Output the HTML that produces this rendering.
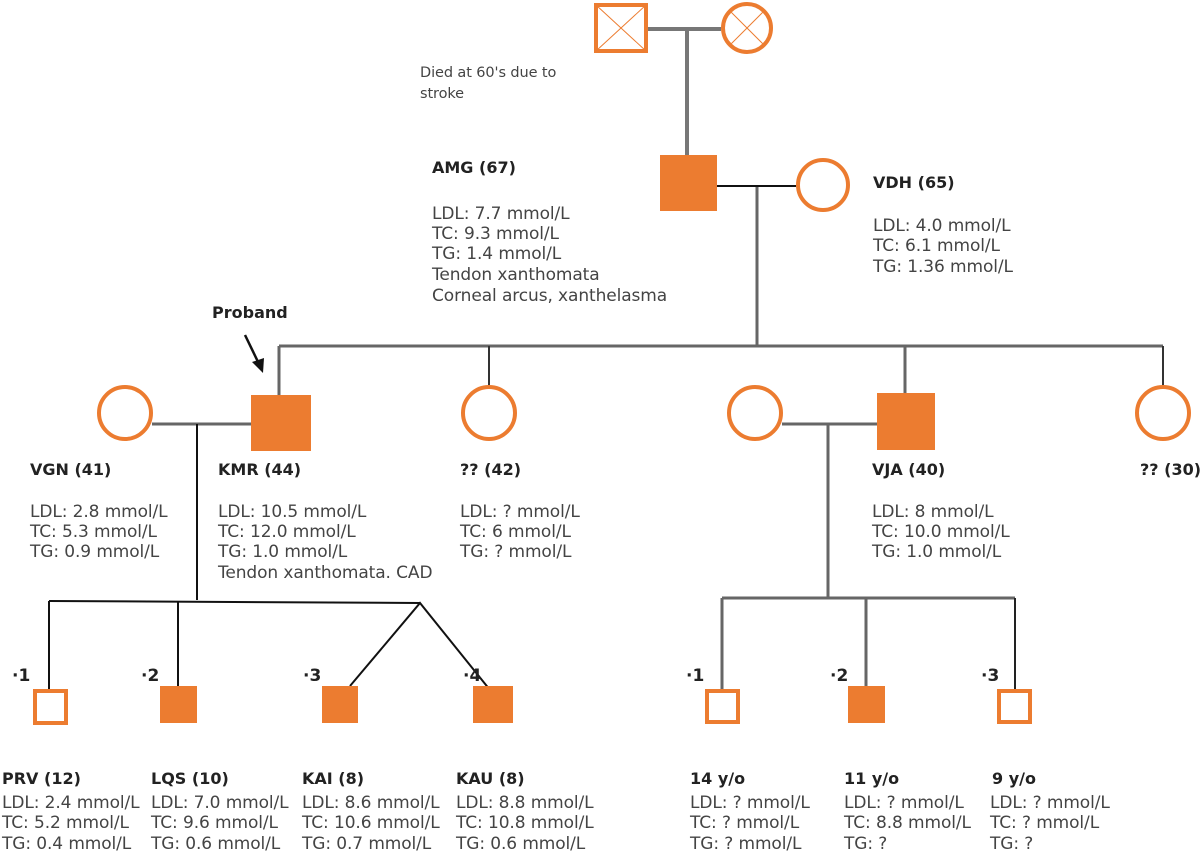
<!DOCTYPE html>
<html><head><style>
body{margin:0;background:#fff}
text{font-family:"DejaVu Sans","Liberation Sans",sans-serif;font-size:17px;fill:#444;letter-spacing:-0.1px}
.b{font-weight:bold;fill:#222;letter-spacing:0;font-size:16px}
.n{font-size:17px}
</style></head><body>
<svg width="1200" height="858" viewBox="0 0 1200 858" xmlns="http://www.w3.org/2000/svg">
<g stroke="#777" stroke-width="4" fill="none">
<line x1="648" y1="29" x2="721" y2="29"/>
<line x1="687" y1="29" x2="687" y2="157"/>
<line x1="757" y1="186" x2="757" y2="346" stroke="#666" stroke-width="3"/>
<line x1="279" y1="346" x2="1163" y2="346" stroke="#666" stroke-width="3"/>
<line x1="279" y1="346" x2="279" y2="395" stroke="#666" stroke-width="3"/>
<line x1="489" y1="346" x2="489" y2="386" stroke="#333" stroke-width="2"/>
<line x1="905" y1="346" x2="905" y2="393" stroke="#666" stroke-width="3"/>
<line x1="1163" y1="346" x2="1163" y2="386" stroke="#333" stroke-width="2"/>
<line x1="152" y1="424" x2="251" y2="424" stroke="#666" stroke-width="3"/>
<line x1="782" y1="424" x2="877" y2="424" stroke="#666" stroke-width="3"/>
<line x1="828" y1="424" x2="828" y2="598" stroke="#666" stroke-width="3"/>
<line x1="722" y1="598" x2="1015" y2="598" stroke="#666" stroke-width="3"/>
<line x1="722" y1="598" x2="722" y2="690" stroke="#666" stroke-width="3"/>
<line x1="866" y1="598" x2="866" y2="686" stroke="#666" stroke-width="3"/>
<line x1="1015" y1="598" x2="1015" y2="690" stroke="#222" stroke-width="2"/>
</g>
<g stroke="#111" stroke-width="2" fill="none">
<line x1="717" y1="186" x2="796" y2="186"/>
<line x1="197" y1="424" x2="197" y2="600"/>
<line x1="49" y1="601" x2="420" y2="603"/>
<line x1="49" y1="601" x2="49" y2="690"/>
<line x1="178" y1="601" x2="178" y2="686"/>
<polyline points="350,686 420,603 490,690"/>
</g>
<g stroke="#ec7c30" fill="none">
<rect x="596" y="5" width="50" height="46" stroke-width="4"/>
<line x1="596" y1="5" x2="646" y2="51" stroke-width="1"/><line x1="646" y1="5" x2="596" y2="51" stroke-width="1"/>
<circle cx="747" cy="28" r="24" stroke-width="4"/>
<line x1="731" y1="12" x2="763" y2="44" stroke-width="1"/><line x1="763" y1="12" x2="731" y2="44" stroke-width="1"/>
<circle cx="823" cy="185" r="25" stroke-width="4"/>
<circle cx="125" cy="413" r="26" stroke-width="4"/>
<circle cx="489" cy="413" r="26" stroke-width="4"/>
<circle cx="755" cy="413" r="26" stroke-width="4"/>
<circle cx="1163" cy="413" r="26" stroke-width="4"/>
<rect x="35" y="691" width="31" height="32" stroke-width="4"/>
<rect x="707" y="691" width="31" height="31" stroke-width="4"/>
<rect x="999" y="691" width="31" height="31" stroke-width="4"/>
</g>
<g fill="#ec7c30">
<rect x="660" y="155" width="57" height="56"/>
<rect x="251" y="395" width="60" height="56"/>
<rect x="877" y="393" width="58" height="57"/>
<rect x="160" y="686" width="37" height="37"/>
<rect x="322" y="686" width="36" height="37"/>
<rect x="473" y="686" width="40" height="37"/>
<rect x="848" y="686" width="37" height="37"/>
</g>
<line x1="245" y1="335" x2="260" y2="366" stroke="#111" stroke-width="2.5"/>
<polygon points="263,373 252,362 264,358" fill="#111"/>
<text x="420" y="77" style="font-size:14.5px">Died at 60's due to</text><text x="420" y="98" style="font-size:14.5px">stroke</text>
<text x="432" y="173" class="b">AMG (67)</text>
<text x="432" y="219">LDL: 7.7 mmol/L</text><text x="432" y="239">TC: 9.3 mmol/L</text><text x="432" y="259">TG: 1.4 mmol/L</text><text x="432" y="280">Tendon xanthomata</text><text x="432" y="301">Corneal arcus, xanthelasma</text>
<text x="873" y="188" class="b">VDH (65)</text>
<text x="873" y="231">LDL: 4.0 mmol/L</text><text x="873" y="251">TC: 6.1 mmol/L</text><text x="873" y="272">TG: 1.36 mmol/L</text>
<text x="212" y="318" class="b">Proband</text>
<text x="30" y="475" class="b">VGN (41)</text>
<text x="30" y="517">LDL: 2.8 mmol/L</text><text x="30" y="537">TC: 5.3 mmol/L</text><text x="30" y="557">TG: 0.9 mmol/L</text>
<text x="218" y="475" class="b">KMR (44)</text>
<text x="218" y="517">LDL: 10.5 mmol/L</text><text x="218" y="537">TC: 12.0 mmol/L</text><text x="218" y="557">TG: 1.0 mmol/L</text><text x="218" y="578">Tendon xanthomata. CAD</text>
<text x="460" y="475" class="b">?? (42)</text>
<text x="460" y="517">LDL: ? mmol/L</text><text x="460" y="537">TC: 6 mmol/L</text><text x="460" y="557">TG: ? mmol/L</text>
<text x="872" y="475" class="b">VJA (40)</text>
<text x="872" y="517">LDL: 8 mmol/L</text><text x="872" y="537">TC: 10.0 mmol/L</text><text x="872" y="557">TG: 1.0 mmol/L</text>
<text x="1140" y="475" class="b">?? (30)</text>
<text x="12" y="681" class="b n">·1</text><text x="141" y="681" class="b n">·2</text><text x="303" y="681" class="b n">·3</text><text x="463" y="681" class="b n">·4</text>
<text x="686" y="681" class="b n">·1</text><text x="830" y="681" class="b n">·2</text><text x="981" y="681" class="b n">·3</text>
<text x="2" y="784" class="b">PRV (12)</text><text x="151" y="784" class="b">LQS (10)</text><text x="302" y="784" class="b">KAI (8)</text><text x="456" y="784" class="b">KAU (8)</text>
<text x="690" y="784" class="b">14 y/o</text><text x="844" y="784" class="b">11 y/o</text><text x="992" y="784" class="b">9 y/o</text>
<text x="2" y="808">LDL: 2.4 mmol/L</text><text x="2" y="828">TC: 5.2 mmol/L</text><text x="2" y="849">TG: 0.4 mmol/L</text>
<text x="151" y="808">LDL: 7.0 mmol/L</text><text x="151" y="828">TC: 9.6 mmol/L</text><text x="151" y="849">TG: 0.6 mmol/L</text>
<text x="302" y="808">LDL: 8.6 mmol/L</text><text x="302" y="828">TC: 10.6 mmol/L</text><text x="302" y="849">TG: 0.7 mmol/L</text>
<text x="456" y="808">LDL: 8.8 mmol/L</text><text x="456" y="828">TC: 10.8 mmol/L</text><text x="456" y="849">TG: 0.6 mmol/L</text>
<text x="690" y="808">LDL: ? mmol/L</text><text x="690" y="828">TC: ? mmol/L</text><text x="690" y="849">TG: ? mmol/L</text>
<text x="844" y="808">LDL: ? mmol/L</text><text x="844" y="828">TC: 8.8 mmol/L</text><text x="844" y="849">TG: ?</text>
<text x="990" y="808">LDL: ? mmol/L</text><text x="990" y="828">TC: ? mmol/L</text><text x="990" y="849">TG: ?</text>
</svg>
</body></html>
